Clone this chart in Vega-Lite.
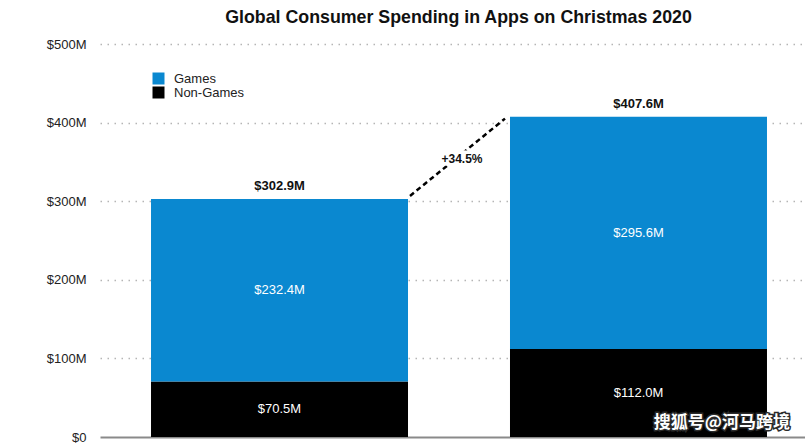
{
  "$schema": "https://vega.github.io/schema/vega-lite/v6.json",
  "width": 705,
  "height": 393,
  "autosize": {"type": "none"},
  "padding": {"left": 100, "top": 44, "right": 0, "bottom": 7},
  "background": "white",
  "title": {
    "text": "Global Consumer Spending in Apps on Christmas 2020",
    "font": "Liberation Sans",
    "fontSize": 17.8,
    "fontWeight": "bold",
    "color": "#111111",
    "anchor": "middle",
    "dx": 6,
    "offset": 11
  },
  "config": {"view": {"stroke": null}, "font": "Liberation Sans"},
  "datasets": {
    "spend": [
      {"year": "2019", "segment": "Non-Games", "value": 70.5},
      {"year": "2019", "segment": "Games", "value": 232.4},
      {"year": "2020", "segment": "Non-Games", "value": 112.0},
      {"year": "2020", "segment": "Games", "value": 295.6}
    ],
    "growth": [
      {"from": "2019", "to": "2020", "start": 302.9, "end": 407.6, "label": "+34.5%"}
    ],
    "credit": [
      {"year": "2020", "note": "搜狐号@河马跨境"}
    ]
  },
  "layer": [
    {
      "data": {"name": "spend"},
      "mark": {"type": "bar"},
      "encoding": {
        "x": {
          "field": "year",
          "type": "nominal",
          "axis": null,
          "scale": {"paddingInner": 0.2841, "paddingOuter": 0.124, "align": 0.573}
        },
        "y": {
          "field": "value",
          "type": "quantitative",
          "stack": "zero",
          "scale": {"domain": [0, 500], "nice": false},
          "axis": {
            "title": null,
            "values": [0, 100, 200, 300, 400, 500],
            "labelExpr": "datum.value === 0 ? '$0' : '$' + datum.value + 'M'",
            "labelFont": "Liberation Sans",
            "labelFontSize": 13,
            "labelColor": "#222222",
            "labelPadding": 14,
            "ticks": false,
            "domain": false,
            "gridColor": {"condition": {"test": "datum.value === 0", "value": "#8a8a8a"}, "value": "#b5b5b5"},
            "gridDash": {"condition": {"test": "datum.value === 0", "value": []}, "value": [1.5, 5.5]},
            "gridWidth": {"condition": {"test": "datum.value === 0", "value": 2}, "value": 1.5}
          }
        },
        "color": {
          "field": "segment",
          "type": "nominal",
          "scale": {"domain": ["Games", "Non-Games"], "range": ["#0a88d0", "#000000"]},
          "legend": {
            "title": null,
            "orient": "none",
            "legendX": 52,
            "legendY": 28,
            "symbolType": "square",
            "symbolSize": 144,
            "symbolStrokeWidth": 0,
            "labelFont": "Liberation Sans",
            "labelFontSize": 13,
            "labelColor": "#222222",
            "labelOffset": 9,
            "rowPadding": 0
          }
        },
        "order": {"field": "segment", "sort": "descending"}
      }
    },
    {
      "data": {"name": "spend"},
      "transform": [
        {"calculate": "'$' + format(datum.value, '.1f') + 'M'", "as": "seg_label"}
      ],
      "mark": {"type": "text", "color": "white", "fontSize": 13, "baseline": "middle"},
      "encoding": {
        "x": {"field": "year", "type": "nominal"},
        "y": {"field": "value", "type": "quantitative", "stack": "zero", "bandPosition": 0.5},
        "detail": {"field": "segment"},
        "order": {"field": "segment", "sort": "descending"},
        "text": {"field": "seg_label"}
      }
    },
    {
      "data": {"name": "spend"},
      "transform": [
        {"aggregate": [{"op": "sum", "field": "value", "as": "total"}], "groupby": ["year"]},
        {"calculate": "'$' + format(datum.total, '.1f') + 'M'", "as": "total_label"}
      ],
      "mark": {"type": "text", "fontSize": 13, "fontWeight": "bold", "color": "#111111", "baseline": "bottom", "dy": -6},
      "encoding": {
        "x": {"field": "year", "type": "nominal"},
        "y": {"field": "total", "type": "quantitative"},
        "text": {"field": "total_label"}
      }
    },
    {
      "data": {"name": "growth"},
      "mark": {"type": "rule", "color": "#000000", "strokeWidth": 2.5, "strokeDash": [5, 3.5], "xOffset": 2, "x2Offset": -5, "yOffset": -3, "y2Offset": 2},
      "encoding": {
        "x": {"field": "from", "type": "nominal", "bandPosition": 1},
        "x2": {"field": "to", "bandPosition": 0},
        "y": {"field": "start", "type": "quantitative"},
        "y2": {"field": "end"}
      }
    },
    {
      "data": {"name": "growth"},
      "mark": {"type": "text", "fontSize": 12, "fontWeight": "bold", "fill": "white", "stroke": "white", "strokeWidth": 7, "dx": -48, "dy": -40},
      "encoding": {
        "x": {"field": "to", "type": "nominal", "bandPosition": 0},
        "y": {"field": "start", "type": "quantitative"},
        "text": {"field": "label"}
      }
    },
    {
      "data": {"name": "growth"},
      "mark": {"type": "text", "fontSize": 12, "fontWeight": "bold", "color": "#111111", "dx": -48, "dy": -40},
      "encoding": {
        "x": {"field": "to", "type": "nominal", "bandPosition": 0},
        "y": {"field": "start", "type": "quantitative"},
        "text": {"field": "label"}
      }
    },
    {
      "data": {"name": "credit"},
      "mark": {"type": "text", "font": "Noto Sans CJK SC", "fontSize": 17, "fontWeight": "bold", "align": "right", "baseline": "middle", "dx": 23, "dy": -14, "fill": "#2a2a2a", "stroke": "#2a2a2a", "strokeWidth": 3},
      "encoding": {
        "x": {"field": "year", "type": "nominal", "bandPosition": 1},
        "y": {"datum": 0, "type": "quantitative"},
        "text": {"field": "note"}
      }
    },
    {
      "data": {"name": "credit"},
      "mark": {"type": "text", "font": "Noto Sans CJK SC", "fontSize": 17, "fontWeight": "bold", "align": "right", "baseline": "middle", "dx": 23, "dy": -14, "fill": "white"},
      "encoding": {
        "x": {"field": "year", "type": "nominal", "bandPosition": 1},
        "y": {"datum": 0, "type": "quantitative"},
        "text": {"field": "note"}
      }
    }
  ]
}
